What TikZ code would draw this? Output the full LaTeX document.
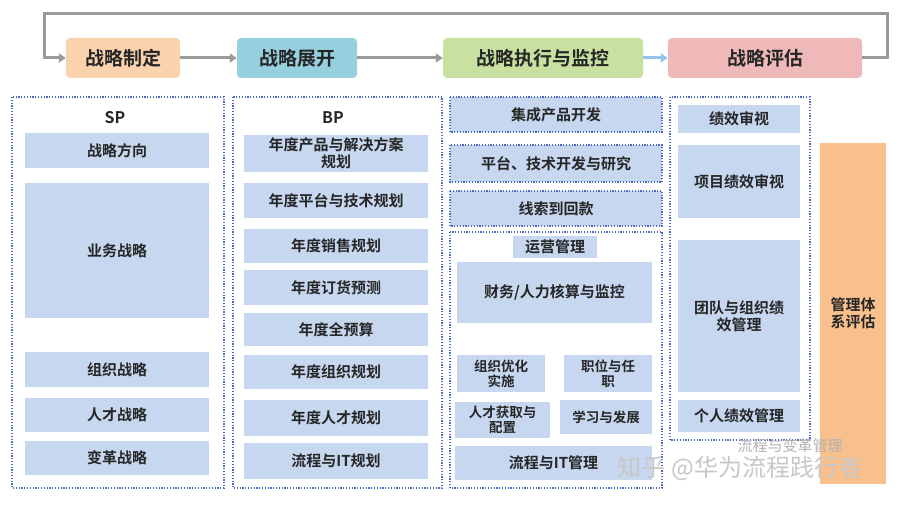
\documentclass[tikz,border=0pt]{standalone}
\usepackage{fontspec}
\setmainfont{Noto Sans CJK SC}[BoldFont={Noto Sans CJK SC Bold}]
\usetikzlibrary{arrows.meta}
\definecolor{cb}{HTML}{C6D7EF}
\definecolor{dotc}{HTML}{4A6CC0}
\definecolor{grayl}{HTML}{9A9A9A}
\definecolor{horange}{HTML}{FAD3AE}
\definecolor{hblue}{HTML}{96D0DE}
\definecolor{hgreen}{HTML}{C8E1A0}
\definecolor{hpink}{HTML}{F0B9B9}
\definecolor{larrow}{HTML}{96C3EB}
\definecolor{ocol}{HTML}{F8C08C}
\tikzset{
 x=1pt,y=-1pt,
 hdr/.style={rounded corners=4pt,font=\bfseries\fontsize{19}{21}\selectfont,text=black!85},
 cbox/.style={font=\bfseries\fontsize{15}{17}\selectfont,text=black!85,align=center},
 sm/.style={font=\bfseries\fontsize{13.5}{15}\selectfont},
 dotbox/.style={draw=dotc,line width=1.8pt,dash pattern=on 1.2pt off 1.6pt},
 flow/.style={draw=grayl,line width=3pt,-{Triangle[length=7pt,width=9pt]}},
 lbl/.style={font=\bfseries\fontsize{16}{18}\selectfont,text=black!85},
}
\begin{document}
\begin{tikzpicture}
\useasboundingbox (0,0) rectangle (900,508);
\fill[white] (0,0) rectangle (900,508);
% header boxes
\node[hdr,fill=horange,minimum width=114pt,minimum height=40pt] (h1) at (123,58) {战略制定};
\node[hdr,fill=hblue,minimum width=120pt,minimum height=40pt] (h2) at (297,58) {战略展开};
\node[hdr,fill=hgreen,minimum width=200pt,minimum height=40pt] (h3) at (543,58) {战略执行与监控};
\node[hdr,fill=hpink,minimum width=194pt,minimum height=40pt] (h4) at (765,58) {战略评估};
\draw[flow] (h1) -- (h2);
\draw[flow] (h2) -- (h3);
\draw[flow,draw=larrow] (h3) -- (h4);
\coordinate (l1) at (887,58);
\coordinate (l2) at (44,58);
\draw[flow] (h4.east) -- (l1) -- (887,14) -- (44,14) -- (l2) -- (h1.west);
% column 1
\draw[dotbox] (12,97) rectangle (224,488);
\node[lbl] (sp) at (115,118) {SP};
\fill[cb] (25,133) rectangle (209,168); \node[cbox] (a1) at (117,151) {战略方向};
\fill[cb] (25,183) rectangle (209,318); \node[cbox] (a2) at (117,251) {业务战略};
\fill[cb] (25,352) rectangle (209,387); \node[cbox] (a3) at (117,370) {组织战略};
\fill[cb] (25,398) rectangle (209,432); \node[cbox] (a4) at (117,415) {人才战略};
\fill[cb] (25,441) rectangle (209,475); \node[cbox] (a5) at (117,458) {变革战略};
% column 2
\draw[dotbox] (233,97) rectangle (442,488);
\node[lbl] (bp) at (333,118) {BP};
\fill[cb] (244,135) rectangle (428,172); \node[cbox] (b1) at (336,153.5) {年度产品与解决方案\\规划};
\fill[cb] (244,183) rectangle (428,218); \node[cbox] (b2) at (336,200.5) {年度平台与技术规划};
\fill[cb] (244,229) rectangle (428,263); \node[cbox] (b3) at (336,246) {年度销售规划};
\fill[cb] (244,270) rectangle (428,305); \node[cbox] (b4) at (336,287.5) {年度订货预测};
\fill[cb] (244,313) rectangle (428,346); \node[cbox] (b5) at (336,329.5) {年度全预算};
\fill[cb] (244,355) rectangle (428,389); \node[cbox] (b6) at (336,372) {年度组织规划};
\fill[cb] (244,400) rectangle (428,436); \node[cbox] (b7) at (336,418) {年度人才规划};
\fill[cb] (244,443) rectangle (428,479); \node[cbox] (b8) at (336,461) {流程与IT规划};
% column 3
\fill[cb] (450,97) rectangle (662,132); \draw[dotbox] (450,97) rectangle (662,132); \node[cbox] (c1) at (556,114.5) {集成产品开发};
\fill[cb] (450,145) rectangle (662,182); \draw[dotbox] (450,145) rectangle (662,182); \node[cbox] (c2) at (556,163.5) {平台、技术开发与研究};
\fill[cb] (450,191) rectangle (662,226); \draw[dotbox] (450,191) rectangle (662,226); \node[cbox] (c3) at (556,208.5) {线索到回款};
\draw[dotbox] (450,232) rectangle (662,488);
\fill[cb] (513,236) rectangle (597,258); \node[cbox] (c4) at (555,247) {运营管理};
\fill[cb] (457,262) rectangle (652,323); \node[cbox] (c5) at (554.5,292.5) {财务/人力核算与监控};
\fill[cb] (457,355) rectangle (545,392); \node[cbox,sm] (c6) at (501,373.5) {组织优化\\实施};
\fill[cb] (564,355) rectangle (652,392); \node[cbox,sm] (c7) at (608,373.5) {职位与任\\职};
\fill[cb] (455,402) rectangle (550,438); \node[cbox,sm] (c8) at (502.5,420) {人才获取与\\配置};
\fill[cb] (560,400) rectangle (652,434); \node[cbox,sm] (c9) at (606,417) {学习与发展};
\fill[cb] (455,446) rectangle (652,480); \node[cbox] (c10) at (553.5,463) {流程与IT管理};
% column 4
\draw[dotbox] (670,97) rectangle (810,440);
\fill[cb] (678,105) rectangle (800,133); \node[cbox] (d1) at (739,119) {绩效审视};
\fill[cb] (678,145) rectangle (800,218); \node[cbox] (d2) at (739,181.5) {项目绩效审视};
\fill[cb] (678,240) rectangle (800,392); \node[cbox] (d3) at (739,316) {团队与组织绩\\效管理};
\fill[cb] (678,400) rectangle (800,432); \node[cbox] (d4) at (739,416) {个人绩效管理};
% orange column
\fill[ocol] (820,143) rectangle (886,484);
\node[cbox] (e1) at (853,313) {管理体\\系评估};
% watermark
\node[font=\fontsize{15}{17}\selectfont,text=black!30] (w1) at (790,446) {流程与变革管理};
\node[font=\fontsize{24}{26}\selectfont,text=black!22] (w2) at (740,468) {知乎 @华为流程践行者};
\end{tikzpicture}
\end{document}
